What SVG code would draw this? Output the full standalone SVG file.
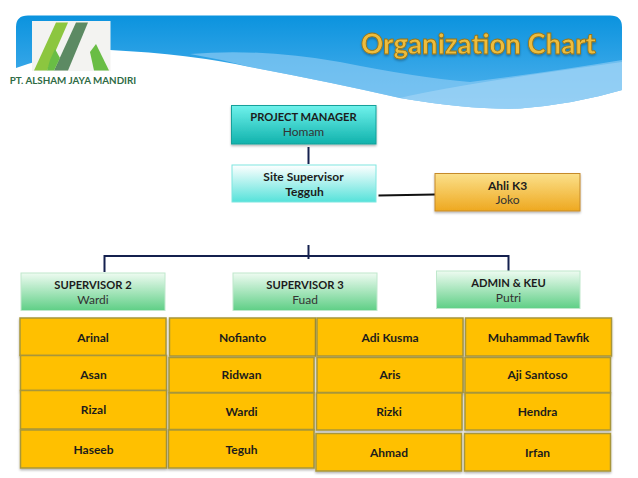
<svg xmlns="http://www.w3.org/2000/svg" width="638" height="478" viewBox="0 0 638 478">
<defs>
<linearGradient id="ban" x1="0" y1="0" x2="0" y2="1"><stop offset="0" stop-color="#0b93de"/><stop offset="1" stop-color="#55b4ee"/></linearGradient>
<linearGradient id="pm" x1="0" y1="0" x2="0" y2="1"><stop offset="0" stop-color="#6ff2ec"/><stop offset="1" stop-color="#10b2ac"/></linearGradient>
<linearGradient id="site" x1="0" y1="0" x2="0" y2="1"><stop offset="0" stop-color="#ffffff"/><stop offset="1" stop-color="#55e2da"/></linearGradient>
<linearGradient id="k3" x1="0" y1="0" x2="0" y2="1"><stop offset="0" stop-color="#fbe08a"/><stop offset="1" stop-color="#eea820"/></linearGradient>
<linearGradient id="sup" x1="0" y1="0" x2="0" y2="1"><stop offset="0" stop-color="#eefbf1"/><stop offset="1" stop-color="#5fcf86"/></linearGradient>
<filter id="sh" x="-5%" y="-10%" width="110%" height="125%"><feDropShadow dx="0" dy="1.500" stdDeviation="1.200" flood-color="#000" flood-opacity="0.300"/></filter>
</defs>
<style>
text{font-family:"Lato","Open Sans","Liberation Sans",sans-serif;text-anchor:middle;fill:#1c1c1c;font-size:12px}
.b{font-weight:700}
.cap{font-weight:700;font-size:11.200px}
.r{fill:#333}
.y rect{fill:#ffc000;stroke:#a8963a;stroke-width:1.500;filter:url(#sh)}
.y text{font-weight:700;font-size:12px}
.c{fill:none;stroke:#14204e;stroke-width:2}
</style>
<g id="banner">
<path d="M16 68V27Q16 15.500 28 15.500H610Q622 15.500 622 27V90Q575 104 520 108.500Q470 110 400 98Q330 82 250 67Q190 54 110 50Q60 52 16 68Z" fill="url(#ban)"/>
<path d="M190 54Q260 48 340 62Q420 78 470 82Q550 72 622 60V90Q575 104 520 108.500Q470 110 400 98Q330 82 250 67Q220 59 190 54Z" fill="#8fcdf5" opacity=".65"/>
<path d="M400 98Q460 84 622 62V90Q575 104 520 108.500Q470 110 400 98Z" fill="#b5def8" opacity=".45"/>
</g>
<g id="logo">
<rect x="32" y="21" width="78.500" height="50" fill="#f3f3f1"/>
<polygon points="34,70.500 56,22.500 68,22.500 47,70.500" fill="#8cc63f"/>
<polygon points="54,70.500 76,22.500 88,22.500 68,70.500" fill="#5c8a63"/>
<polygon points="50,60 55,49 60,58 54,70.500 47,70.500" fill="#69bd45"/>
<polygon points="96,44 109,70.500 94,70.500 90,52" fill="#69bd45"/>
<text x="73" y="84" class="b" style="font-size:9.800px;fill:#2f6b45">PT. ALSHAM JAYA MANDIRI</text>
</g>
<text id="title" x="478.500" y="54" style="font-weight:900;font-size:27.500px;fill:#edbd3e;stroke:#9a7414;stroke-width:.8;filter:url(#sh)">Organization Chart</text>
<g id="connectors">
<path class="c" d="M308.500 147V164"/>
<path class="c" d="M378.500 195.500L435 194.500" style="stroke:#111"/>
<path class="c" d="M104.500 272V256H508.500V273"/>
<path class="c" d="M308.500 245V259"/>
</g>
<g id="project-manager"><rect x="231.500" y="105.500" width="144.500" height="38.500" fill="url(#pm)" stroke="#12a09a" filter="url(#sh)"/><text x="303.500" y="121" class="cap">PROJECT MANAGER</text><text x="303.500" y="136" class="r">Homam</text></g>
<g id="site-supervisor"><rect x="232" y="165" width="144" height="37" fill="url(#site)" stroke="#7fe6e0"/><text x="303.500" y="180.500" class="b">Site Supervisor</text><text x="304.500" y="195.500" class="b">Tegguh</text></g>
<g id="ahli-k3"><rect x="435" y="173.500" width="145" height="37.500" fill="url(#k3)" stroke="#c58a2a" filter="url(#sh)"/><text x="507.500" y="189.500" class="b">Ahli K3</text><text x="507.500" y="204" class="r">Joko</text></g>
<g id="supervisor-2"><rect x="21" y="273" width="144" height="37.500" fill="url(#sup)" stroke="#bfe8cc"/><text x="93" y="289" class="cap">SUPERVISOR 2</text><text x="93" y="303.500" class="r">Wardi</text></g>
<g id="supervisor-3"><rect x="233" y="273" width="144" height="37.500" fill="url(#sup)" stroke="#bfe8cc"/><text x="305" y="289" class="cap">SUPERVISOR 3</text><text x="305" y="303.500" class="r">Fuad</text></g>
<g id="admin-keu"><rect x="436.500" y="271" width="143.500" height="37.500" fill="url(#sup)" stroke="#bfe8cc"/><text x="508.500" y="286.500" class="cap">ADMIN &amp; KEU</text><text x="508.500" y="301.500" class="r">Putri</text></g>
<g id="arinal" class="y"><rect x="20" y="318" width="146" height="37.500"/><text x="93" y="342">Arinal</text></g>
<g id="asan" class="y"><rect x="20.500" y="355.500" width="146" height="35"/><text x="93.500" y="379">Asan</text></g>
<g id="rizal" class="y"><rect x="20.500" y="390.500" width="146" height="38.500"/><text x="93.500" y="414">Rizal</text></g>
<g id="haseeb" class="y"><rect x="20.500" y="430" width="146" height="38"/><text x="93.500" y="453.500">Haseeb</text></g>
<g id="nofianto" class="y"><rect x="169.500" y="318" width="146" height="38"/><text x="242.500" y="342">Nofianto</text></g>
<g id="ridwan" class="y"><rect x="169" y="357.500" width="145" height="35"/><text x="241.500" y="379">Ridwan</text></g>
<g id="wardi" class="y"><rect x="169" y="393" width="145" height="36.500"/><text x="241.500" y="416">Wardi</text></g>
<g id="teguh" class="y"><rect x="168.500" y="430" width="145.500" height="38"/><text x="241.500" y="453.500">Teguh</text></g>
<g id="adi-kusma" class="y"><rect x="317" y="318" width="146" height="38"/><text x="390" y="342">Adi Kusma</text></g>
<g id="aris" class="y"><rect x="317" y="357.500" width="146" height="35"/><text x="390" y="379">Aris</text></g>
<g id="rizki" class="y"><rect x="316.500" y="393" width="145.500" height="37"/><text x="389" y="416">Rizki</text></g>
<g id="ahmad" class="y"><rect x="316" y="433.500" width="145.500" height="37.500"/><text x="389" y="456.500">Ahmad</text></g>
<g id="muhammad-tawfik" class="y"><rect x="465.500" y="318" width="146" height="38"/><text x="538.500" y="342">Muhammad Tawfik</text></g>
<g id="aji-santoso" class="y"><rect x="465" y="357.500" width="145.500" height="35"/><text x="537.500" y="379">Aji Santoso</text></g>
<g id="hendra" class="y"><rect x="465" y="393" width="145.500" height="37"/><text x="537.500" y="416">Hendra</text></g>
<g id="irfan" class="y"><rect x="464.500" y="433.500" width="146" height="37.500"/><text x="537.500" y="456.500">Irfan</text></g>
</svg>
